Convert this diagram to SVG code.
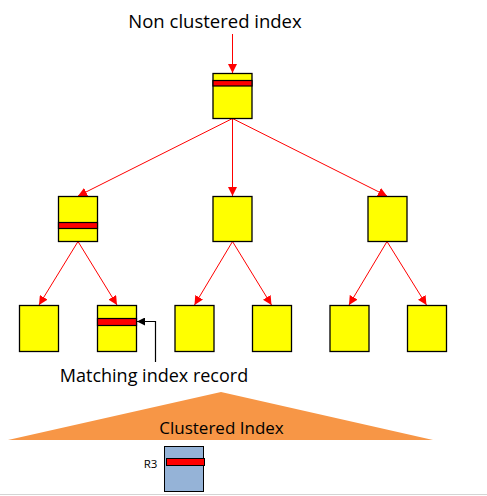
<svg xmlns="http://www.w3.org/2000/svg" width="487" height="496" viewBox="0 0 487 496">
<defs>
<marker id="ra" viewBox="0 0 10 10" refX="10" refY="5" markerWidth="9" markerHeight="9" markerUnits="userSpaceOnUse" orient="auto"><path d="M0,0 L10,5 L0,10 Z" fill="#FF0000"/></marker>
<marker id="ba" viewBox="0 0 10 10" refX="10" refY="5" markerWidth="8" markerHeight="8" markerUnits="userSpaceOnUse" orient="auto"><path d="M0,0 L10,5 L0,10 Z" fill="#000"/></marker>
</defs>
<style>
.box{fill:#FFFF00;stroke:#000;stroke-width:1.3}
.rec{fill:#FF0000;stroke:#000;stroke-width:1.2}
.ra{stroke:#FF0000;stroke-width:1;fill:none;marker-end:url(#ra)}
.t{font-family:"Open Sans","Liberation Sans",sans-serif;fill:#000}
</style>
<rect width="487" height="496" fill="#fff"/>
<text class="t" x="215" y="28" font-size="18.5" text-anchor="middle">Non clustered index</text>
<g id="connectors">
<line class="ra" x1="232.5" y1="34" x2="232.5" y2="73"/>
<line class="ra" x1="232.5" y1="118.5" x2="78" y2="196"/>
<line class="ra" x1="232.5" y1="118.5" x2="232.5" y2="196"/>
<line class="ra" x1="232.5" y1="118.5" x2="387" y2="196"/>
<line class="ra" x1="78" y1="241.5" x2="39" y2="305"/>
<line class="ra" x1="78" y1="241.5" x2="117" y2="305"/>
<line class="ra" x1="232.5" y1="241.5" x2="194.5" y2="305"/>
<line class="ra" x1="232.5" y1="241.5" x2="271.5" y2="305"/>
<line class="ra" x1="387" y1="241.5" x2="349" y2="305"/>
<line class="ra" x1="387" y1="241.5" x2="426.5" y2="305"/>
<polyline points="155.5,362 155.5,321.5 137,321.5" fill="none" stroke="#000" stroke-width="1.2" marker-end="url(#ba)"/>
</g>
<g id="root"><rect class="box" x="213" y="73.5" width="39" height="45"/><rect class="rec" x="213" y="80.5" width="39" height="5.5"/></g>
<g id="l2a"><rect class="box" x="58.5" y="196.5" width="39" height="45"/><rect class="rec" x="58.5" y="222.5" width="39" height="6"/></g>
<g id="l2b"><rect class="box" x="213" y="196.5" width="39" height="45"/></g>
<g id="l2c"><rect class="box" x="368" y="196.5" width="39" height="45"/></g>
<g id="l3a"><rect class="box" x="19.5" y="305.5" width="39" height="46"/></g>
<g id="l3b"><rect class="box" x="97.5" y="305.5" width="39" height="46"/><rect class="rec" x="97.5" y="318.5" width="39" height="7"/></g>
<g id="l3c"><rect class="box" x="175" y="305.5" width="39" height="46"/></g>
<g id="l3d"><rect class="box" x="252.5" y="305.5" width="39" height="46"/></g>
<g id="l3e"><rect class="box" x="330" y="305.5" width="39" height="46"/></g>
<g id="l3f"><rect class="box" x="407.5" y="305.5" width="39" height="46"/></g>
<text class="t" x="154" y="382" font-size="18" text-anchor="middle">Matching index record</text>
<g id="clustered">
<polygon points="221,392 433,440 8,440" fill="#F79646"/>
<text class="t" x="221.5" y="434" font-size="17" text-anchor="middle">Clustered Index</text>
</g>
<g id="r3">
<rect x="164.5" y="446.5" width="39" height="45" fill="#95B3D7" stroke="#000" stroke-width="1"/>
<rect x="166.5" y="458.5" width="38" height="7" fill="#FF0000" stroke="#000" stroke-width="1"/>
<text class="t" x="150.5" y="468" font-size="11.5" text-anchor="middle">R3</text>
</g>
<line x1="0" y1="494.5" x2="487" y2="494.5" stroke="#D4D4D4" stroke-width="1"/>
</svg>
